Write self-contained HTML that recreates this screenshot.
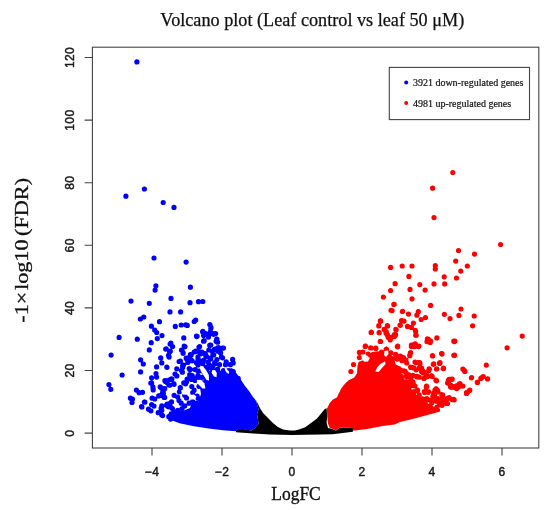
<!DOCTYPE html>
<html><head><meta charset="utf-8"><title>Volcano plot</title>
<style>
html,body{margin:0;padding:0;background:#fff;width:550px;height:510px;overflow:hidden}
svg{display:block}
.tl{font-family:"Liberation Sans",Arial,sans-serif;font-size:12px;letter-spacing:0.4px;fill:#1a1a1a;stroke:#1a1a1a;stroke-width:0.45px}
.ti{font-family:"Liberation Serif","Times New Roman",serif;font-size:18.2px;fill:#111;stroke:#111;stroke-width:0.25px}
.ax{font-family:"Liberation Serif","Times New Roman",serif;font-size:17.5px;fill:#111;stroke:#111;stroke-width:0.3px}
.lg{font-family:"Liberation Serif","Times New Roman",serif;font-size:10px;fill:#111;stroke:#111;stroke-width:0.2px}
</style></head><body>
<svg width="550" height="510" viewBox="0 0 550 510">
<rect width="550" height="510" fill="#fff"/>
<path d="M236 430.5 L239.5 428.3 L246.8 429.7 L251.6 430.5 L254.7 428.2 L258.6 423.5 L257 414.1 L258.6 409.4 L256.5 402 L255.5 399.5 L258 404 L260.2 408.6 L263.3 413.3 L268 418 L272.7 422.7 L277.5 426.7 L282.9 429.4 L290 430.6 L295 430.5 L298.9 429.5 L305.2 427.2 L310.7 423.2 L317 418.5 L320.9 413.8 L324.8 409.1 L326.6 408.3 L327.2 417 L326.6 422.5 L328 428 L331.9 428.7 L336 430.5 L340 427.5 L352.9 428 L352.9 431.8 L332.7 434.3 L320 434.6 L291.5 435.1 L269.6 434.6 L250 433.3 L236 432.3Z" fill="#000"/>
<path d="M205 378 L215 372 L225 370 L232 368 L237 374 L241 380 L245 386 L249 391 L253 397 L255.5 400 L257.5 405 L258.6 409.4 L257 414.1 L258.6 423.5 L254.7 428.2 L251.6 430.5 L246.8 430 L239.5 428.8 L236 430.5 L236 431.3 L223 430.2 L208.6 428.4 L194 426.2 L179.5 423.3 L166.5 418.2 L169.4 411.5 L183.9 410.5 L190 408 L192 401.5 L199 400 L201 394 L200 388Z" fill="#0000ff"/>
<path d="M329.4 427.5 L327.8 422.7 L327.1 413.3 L326.8 409 L329.7 403 L333 399.5 L336.8 397.5 L339.1 392.7 L341.5 388 L345.4 383.3 L349 380 L354 377.8 L357 373.5 L357.5 366 L358.5 362 L361 361 L366 359 L368 355 L372 352 L381 351 L389 352.5 L394 358 L396 366 L398 372 L403.5 381 L411 391 L421 399.6 L432 405.9 L440 409 L440 411.5 L425.5 415.5 L412.7 419.1 L400 422 L394.5 424.5 L382.7 425.9 L367 429 L352.9 430.8 L352.9 428 L340 427.5 L336 430.5Z" fill="#ff0000"/>
<path fill="#0000ff" d="M134.3 61.9a2.6 2.6 0 1 0 5.2 0a2.6 2.6 0 1 0 -5.2 0M123.3 196.2a2.6 2.6 0 1 0 5.2 0a2.6 2.6 0 1 0 -5.2 0M141.8 189a2.6 2.6 0 1 0 5.2 0a2.6 2.6 0 1 0 -5.2 0M160.6 202.5a2.6 2.6 0 1 0 5.2 0a2.6 2.6 0 1 0 -5.2 0M171.4 207.4a2.6 2.6 0 1 0 5.2 0a2.6 2.6 0 1 0 -5.2 0M151.4 258a2.6 2.6 0 1 0 5.2 0a2.6 2.6 0 1 0 -5.2 0M183.5 262.1a2.6 2.6 0 1 0 5.2 0a2.6 2.6 0 1 0 -5.2 0M153.3 285.8a2.6 2.6 0 1 0 5.2 0a2.6 2.6 0 1 0 -5.2 0M152.5 290.1a2.6 2.6 0 1 0 5.2 0a2.6 2.6 0 1 0 -5.2 0M187.8 287.2a2.6 2.6 0 1 0 5.2 0a2.6 2.6 0 1 0 -5.2 0M128.4 301.1a2.6 2.6 0 1 0 5.2 0a2.6 2.6 0 1 0 -5.2 0M146.7 303.3a2.6 2.6 0 1 0 5.2 0a2.6 2.6 0 1 0 -5.2 0M168.4 298.4a2.6 2.6 0 1 0 5.2 0a2.6 2.6 0 1 0 -5.2 0M187.4 302.7a2.6 2.6 0 1 0 5.2 0a2.6 2.6 0 1 0 -5.2 0M167.4 311.9a2.6 2.6 0 1 0 5.2 0a2.6 2.6 0 1 0 -5.2 0M178 311.9a2.6 2.6 0 1 0 5.2 0a2.6 2.6 0 1 0 -5.2 0M137.8 319a2.6 2.6 0 1 0 5.2 0a2.6 2.6 0 1 0 -5.2 0M141.2 317a2.6 2.6 0 1 0 5.2 0a2.6 2.6 0 1 0 -5.2 0M156.9 321.7a2.6 2.6 0 1 0 5.2 0a2.6 2.6 0 1 0 -5.2 0M148.8 326.2a2.6 2.6 0 1 0 5.2 0a2.6 2.6 0 1 0 -5.2 0M152.1 330.1a2.6 2.6 0 1 0 5.2 0a2.6 2.6 0 1 0 -5.2 0M154.1 332.5a2.6 2.6 0 1 0 5.2 0a2.6 2.6 0 1 0 -5.2 0M159.4 335.6a2.6 2.6 0 1 0 5.2 0a2.6 2.6 0 1 0 -5.2 0M154.7 338.6a2.6 2.6 0 1 0 5.2 0a2.6 2.6 0 1 0 -5.2 0M172.7 326.4a2.6 2.6 0 1 0 5.2 0a2.6 2.6 0 1 0 -5.2 0M178.6 325a2.6 2.6 0 1 0 5.2 0a2.6 2.6 0 1 0 -5.2 0M183.1 324.8a2.6 2.6 0 1 0 5.2 0a2.6 2.6 0 1 0 -5.2 0M184.7 325.4a2.6 2.6 0 1 0 5.2 0a2.6 2.6 0 1 0 -5.2 0M116.5 337.4a2.6 2.6 0 1 0 5.2 0a2.6 2.6 0 1 0 -5.2 0M134.7 339.2a2.6 2.6 0 1 0 5.2 0a2.6 2.6 0 1 0 -5.2 0M148.6 342.7a2.6 2.6 0 1 0 5.2 0a2.6 2.6 0 1 0 -5.2 0M181.2 337.8a2.6 2.6 0 1 0 5.2 0a2.6 2.6 0 1 0 -5.2 0M168.2 343.7a2.6 2.6 0 1 0 5.2 0a2.6 2.6 0 1 0 -5.2 0M181.6 346a2.6 2.6 0 1 0 5.2 0a2.6 2.6 0 1 0 -5.2 0M195.9 301.7a2.6 2.6 0 1 0 5.2 0a2.6 2.6 0 1 0 -5.2 0M200.2 301.5a2.6 2.6 0 1 0 5.2 0a2.6 2.6 0 1 0 -5.2 0M193.1 320a2.6 2.6 0 1 0 5.2 0a2.6 2.6 0 1 0 -5.2 0M191.6 321.5a2.6 2.6 0 1 0 5.2 0a2.6 2.6 0 1 0 -5.2 0M207.4 324.8a2.6 2.6 0 1 0 5.2 0a2.6 2.6 0 1 0 -5.2 0M208.4 327.4a2.6 2.6 0 1 0 5.2 0a2.6 2.6 0 1 0 -5.2 0M200 331.7a2.6 2.6 0 1 0 5.2 0a2.6 2.6 0 1 0 -5.2 0M208.8 333.3a2.6 2.6 0 1 0 5.2 0a2.6 2.6 0 1 0 -5.2 0M211.2 333.7a2.6 2.6 0 1 0 5.2 0a2.6 2.6 0 1 0 -5.2 0M201 335.6a2.6 2.6 0 1 0 5.2 0a2.6 2.6 0 1 0 -5.2 0M205.9 336.8a2.6 2.6 0 1 0 5.2 0a2.6 2.6 0 1 0 -5.2 0M194.1 336.6a2.6 2.6 0 1 0 5.2 0a2.6 2.6 0 1 0 -5.2 0M214.3 339.2a2.6 2.6 0 1 0 5.2 0a2.6 2.6 0 1 0 -5.2 0M201.6 340.7a2.6 2.6 0 1 0 5.2 0a2.6 2.6 0 1 0 -5.2 0M207.4 345a2.6 2.6 0 1 0 5.2 0a2.6 2.6 0 1 0 -5.2 0M197 346.6a2.6 2.6 0 1 0 5.2 0a2.6 2.6 0 1 0 -5.2 0M108.5 355.1a2.6 2.6 0 1 0 5.2 0a2.6 2.6 0 1 0 -5.2 0M146.7 349.9a2.6 2.6 0 1 0 5.2 0a2.6 2.6 0 1 0 -5.2 0M163.1 349.1a2.6 2.6 0 1 0 5.2 0a2.6 2.6 0 1 0 -5.2 0M167.5 344.1a2.6 2.6 0 1 0 5.2 0a2.6 2.6 0 1 0 -5.2 0M167 352a2.6 2.6 0 1 0 5.2 0a2.6 2.6 0 1 0 -5.2 0M166.3 356.7a2.6 2.6 0 1 0 5.2 0a2.6 2.6 0 1 0 -5.2 0M158.1 357.9a2.6 2.6 0 1 0 5.2 0a2.6 2.6 0 1 0 -5.2 0M159.2 362.9a2.6 2.6 0 1 0 5.2 0a2.6 2.6 0 1 0 -5.2 0M138 359.8a2.6 2.6 0 1 0 5.2 0a2.6 2.6 0 1 0 -5.2 0M140.7 364a2.6 2.6 0 1 0 5.2 0a2.6 2.6 0 1 0 -5.2 0M154 366.9a2.6 2.6 0 1 0 5.2 0a2.6 2.6 0 1 0 -5.2 0M164.4 367.3a2.6 2.6 0 1 0 5.2 0a2.6 2.6 0 1 0 -5.2 0M138 371.9a2.6 2.6 0 1 0 5.2 0a2.6 2.6 0 1 0 -5.2 0M119.5 375a2.6 2.6 0 1 0 5.2 0a2.6 2.6 0 1 0 -5.2 0M153.4 373.5a2.6 2.6 0 1 0 5.2 0a2.6 2.6 0 1 0 -5.2 0M149 377.8a2.6 2.6 0 1 0 5.2 0a2.6 2.6 0 1 0 -5.2 0M154 377.1a2.6 2.6 0 1 0 5.2 0a2.6 2.6 0 1 0 -5.2 0M162.3 380.5a2.6 2.6 0 1 0 5.2 0a2.6 2.6 0 1 0 -5.2 0M167.8 379.4a2.6 2.6 0 1 0 5.2 0a2.6 2.6 0 1 0 -5.2 0M148.2 383a2.6 2.6 0 1 0 5.2 0a2.6 2.6 0 1 0 -5.2 0M166.3 384.9a2.6 2.6 0 1 0 5.2 0a2.6 2.6 0 1 0 -5.2 0M106.3 384.6a2.6 2.6 0 1 0 5.2 0a2.6 2.6 0 1 0 -5.2 0M108.2 389.3a2.6 2.6 0 1 0 5.2 0a2.6 2.6 0 1 0 -5.2 0M150.3 386.8a2.6 2.6 0 1 0 5.2 0a2.6 2.6 0 1 0 -5.2 0M150.6 389.9a2.6 2.6 0 1 0 5.2 0a2.6 2.6 0 1 0 -5.2 0M157.6 386.9a2.6 2.6 0 1 0 5.2 0a2.6 2.6 0 1 0 -5.2 0M161.6 389.3a2.6 2.6 0 1 0 5.2 0a2.6 2.6 0 1 0 -5.2 0M133.8 390.1a2.6 2.6 0 1 0 5.2 0a2.6 2.6 0 1 0 -5.2 0M136.5 392.7a2.6 2.6 0 1 0 5.2 0a2.6 2.6 0 1 0 -5.2 0M139.9 392.3a2.6 2.6 0 1 0 5.2 0a2.6 2.6 0 1 0 -5.2 0M160.8 393.5a2.6 2.6 0 1 0 5.2 0a2.6 2.6 0 1 0 -5.2 0M161.6 397.5a2.6 2.6 0 1 0 5.2 0a2.6 2.6 0 1 0 -5.2 0M156.1 395.9a2.6 2.6 0 1 0 5.2 0a2.6 2.6 0 1 0 -5.2 0M149.5 398.2a2.6 2.6 0 1 0 5.2 0a2.6 2.6 0 1 0 -5.2 0M152.1 399a2.6 2.6 0 1 0 5.2 0a2.6 2.6 0 1 0 -5.2 0M127.8 398.2a2.6 2.6 0 1 0 5.2 0a2.6 2.6 0 1 0 -5.2 0M129.9 399a2.6 2.6 0 1 0 5.2 0a2.6 2.6 0 1 0 -5.2 0M129.4 402.5a2.6 2.6 0 1 0 5.2 0a2.6 2.6 0 1 0 -5.2 0M142.3 402.2a2.6 2.6 0 1 0 5.2 0a2.6 2.6 0 1 0 -5.2 0M149 404.5a2.6 2.6 0 1 0 5.2 0a2.6 2.6 0 1 0 -5.2 0M151.4 406.1a2.6 2.6 0 1 0 5.2 0a2.6 2.6 0 1 0 -5.2 0M139.3 406.9a2.6 2.6 0 1 0 5.2 0a2.6 2.6 0 1 0 -5.2 0M145.9 409.2a2.6 2.6 0 1 0 5.2 0a2.6 2.6 0 1 0 -5.2 0M159.2 406.9a2.6 2.6 0 1 0 5.2 0a2.6 2.6 0 1 0 -5.2 0M163.9 405a2.6 2.6 0 1 0 5.2 0a2.6 2.6 0 1 0 -5.2 0M167 403.7a2.6 2.6 0 1 0 5.2 0a2.6 2.6 0 1 0 -5.2 0M167.8 406.9a2.6 2.6 0 1 0 5.2 0a2.6 2.6 0 1 0 -5.2 0M148.3 410.8a2.6 2.6 0 1 0 5.2 0a2.6 2.6 0 1 0 -5.2 0M155.6 412.7a2.6 2.6 0 1 0 5.2 0a2.6 2.6 0 1 0 -5.2 0M159.2 414.9a2.6 2.6 0 1 0 5.2 0a2.6 2.6 0 1 0 -5.2 0M158.5 408.4a2.6 2.6 0 1 0 5.2 0a2.6 2.6 0 1 0 -5.2 0M162.1 397.5a2.6 2.6 0 1 0 5.2 0a2.6 2.6 0 1 0 -5.2 0M160.7 393.1a2.6 2.6 0 1 0 5.2 0a2.6 2.6 0 1 0 -5.2 0M157.8 387.3a2.6 2.6 0 1 0 5.2 0a2.6 2.6 0 1 0 -5.2 0M162.1 388.7a2.6 2.6 0 1 0 5.2 0a2.6 2.6 0 1 0 -5.2 0M149 382.9a2.6 2.6 0 1 0 5.2 0a2.6 2.6 0 1 0 -5.2 0M150.5 388.7a2.6 2.6 0 1 0 5.2 0a2.6 2.6 0 1 0 -5.2 0M162.9 381.5a2.6 2.6 0 1 0 5.2 0a2.6 2.6 0 1 0 -5.2 0M165 406.2a2.6 2.6 0 1 0 5.2 0a2.6 2.6 0 1 0 -5.2 0M166.5 417.1a2.6 2.6 0 1 0 5.2 0a2.6 2.6 0 1 0 -5.2 0M141.8 402.1a2.6 2.6 0 1 0 5.2 0a2.6 2.6 0 1 0 -5.2 0M138.9 406.6a2.6 2.6 0 1 0 5.2 0a2.6 2.6 0 1 0 -5.2 0M181.2 338a2.6 2.6 0 1 0 5.2 0a2.6 2.6 0 1 0 -5.2 0M193.9 336.1a2.6 2.6 0 1 0 5.2 0a2.6 2.6 0 1 0 -5.2 0M200 331.8a2.6 2.6 0 1 0 5.2 0a2.6 2.6 0 1 0 -5.2 0M203 333.5a2.6 2.6 0 1 0 5.2 0a2.6 2.6 0 1 0 -5.2 0M207.7 331.8a2.6 2.6 0 1 0 5.2 0a2.6 2.6 0 1 0 -5.2 0M211.2 334.1a2.6 2.6 0 1 0 5.2 0a2.6 2.6 0 1 0 -5.2 0M201.2 341.2a2.6 2.6 0 1 0 5.2 0a2.6 2.6 0 1 0 -5.2 0M205.9 337.1a2.6 2.6 0 1 0 5.2 0a2.6 2.6 0 1 0 -5.2 0M214.2 340a2.6 2.6 0 1 0 5.2 0a2.6 2.6 0 1 0 -5.2 0M207.1 345.3a2.6 2.6 0 1 0 5.2 0a2.6 2.6 0 1 0 -5.2 0M168.3 343.2a2.6 2.6 0 1 0 5.2 0a2.6 2.6 0 1 0 -5.2 0M170 346.5a2.6 2.6 0 1 0 5.2 0a2.6 2.6 0 1 0 -5.2 0M163.6 348.8a2.6 2.6 0 1 0 5.2 0a2.6 2.6 0 1 0 -5.2 0M167.7 351.2a2.6 2.6 0 1 0 5.2 0a2.6 2.6 0 1 0 -5.2 0M165.9 355.3a2.6 2.6 0 1 0 5.2 0a2.6 2.6 0 1 0 -5.2 0M166.5 357.1a2.6 2.6 0 1 0 5.2 0a2.6 2.6 0 1 0 -5.2 0M182.4 346.5a2.6 2.6 0 1 0 5.2 0a2.6 2.6 0 1 0 -5.2 0M178.9 350a2.6 2.6 0 1 0 5.2 0a2.6 2.6 0 1 0 -5.2 0M180.6 352.9a2.6 2.6 0 1 0 5.2 0a2.6 2.6 0 1 0 -5.2 0M187.7 354.7a2.6 2.6 0 1 0 5.2 0a2.6 2.6 0 1 0 -5.2 0M193 351.2a2.6 2.6 0 1 0 5.2 0a2.6 2.6 0 1 0 -5.2 0M196.5 347.1a2.6 2.6 0 1 0 5.2 0a2.6 2.6 0 1 0 -5.2 0M197.7 352.4a2.6 2.6 0 1 0 5.2 0a2.6 2.6 0 1 0 -5.2 0M203 354.7a2.6 2.6 0 1 0 5.2 0a2.6 2.6 0 1 0 -5.2 0M183.6 358.2a2.6 2.6 0 1 0 5.2 0a2.6 2.6 0 1 0 -5.2 0M186.5 360a2.6 2.6 0 1 0 5.2 0a2.6 2.6 0 1 0 -5.2 0M176.5 361.5a2.6 2.6 0 1 0 5.2 0a2.6 2.6 0 1 0 -5.2 0M164.2 367.1a2.6 2.6 0 1 0 5.2 0a2.6 2.6 0 1 0 -5.2 0M174.2 368.8a2.6 2.6 0 1 0 5.2 0a2.6 2.6 0 1 0 -5.2 0M180 365.9a2.6 2.6 0 1 0 5.2 0a2.6 2.6 0 1 0 -5.2 0M187.7 369.4a2.6 2.6 0 1 0 5.2 0a2.6 2.6 0 1 0 -5.2 0M178.9 370.6a2.6 2.6 0 1 0 5.2 0a2.6 2.6 0 1 0 -5.2 0M172.4 374.1a2.6 2.6 0 1 0 5.2 0a2.6 2.6 0 1 0 -5.2 0M174.2 375.9a2.6 2.6 0 1 0 5.2 0a2.6 2.6 0 1 0 -5.2 0M168.9 378.8a2.6 2.6 0 1 0 5.2 0a2.6 2.6 0 1 0 -5.2 0M164.2 380.6a2.6 2.6 0 1 0 5.2 0a2.6 2.6 0 1 0 -5.2 0M171.2 383.5a2.6 2.6 0 1 0 5.2 0a2.6 2.6 0 1 0 -5.2 0M181.2 382.9a2.6 2.6 0 1 0 5.2 0a2.6 2.6 0 1 0 -5.2 0M177.7 387.6a2.6 2.6 0 1 0 5.2 0a2.6 2.6 0 1 0 -5.2 0M187.1 374.7a2.6 2.6 0 1 0 5.2 0a2.6 2.6 0 1 0 -5.2 0M188.9 379.4a2.6 2.6 0 1 0 5.2 0a2.6 2.6 0 1 0 -5.2 0M213 333.5a2.6 2.6 0 1 0 5.2 0a2.6 2.6 0 1 0 -5.2 0M214.2 339.4a2.6 2.6 0 1 0 5.2 0a2.6 2.6 0 1 0 -5.2 0M213.6 341.2a2.6 2.6 0 1 0 5.2 0a2.6 2.6 0 1 0 -5.2 0M215.9 347.6a2.6 2.6 0 1 0 5.2 0a2.6 2.6 0 1 0 -5.2 0M220 348.2a2.6 2.6 0 1 0 5.2 0a2.6 2.6 0 1 0 -5.2 0M215.3 351.2a2.6 2.6 0 1 0 5.2 0a2.6 2.6 0 1 0 -5.2 0M218.9 357.1a2.6 2.6 0 1 0 5.2 0a2.6 2.6 0 1 0 -5.2 0M230 359.4a2.6 2.6 0 1 0 5.2 0a2.6 2.6 0 1 0 -5.2 0M230.6 362.9a2.6 2.6 0 1 0 5.2 0a2.6 2.6 0 1 0 -5.2 0M223.6 361.8a2.6 2.6 0 1 0 5.2 0a2.6 2.6 0 1 0 -5.2 0M200.9 341.2a2.6 2.6 0 1 0 5.2 0a2.6 2.6 0 1 0 -5.2 0M213.5 341.2a2.6 2.6 0 1 0 5.2 0a2.6 2.6 0 1 0 -5.2 0M207.2 345.5a2.6 2.6 0 1 0 5.2 0a2.6 2.6 0 1 0 -5.2 0M182.1 346.7a2.6 2.6 0 1 0 5.2 0a2.6 2.6 0 1 0 -5.2 0M196.6 347.1a2.6 2.6 0 1 0 5.2 0a2.6 2.6 0 1 0 -5.2 0M179.4 350.2a2.6 2.6 0 1 0 5.2 0a2.6 2.6 0 1 0 -5.2 0M180.5 353.3a2.6 2.6 0 1 0 5.2 0a2.6 2.6 0 1 0 -5.2 0M192.7 351.4a2.6 2.6 0 1 0 5.2 0a2.6 2.6 0 1 0 -5.2 0M196.6 351.8a2.6 2.6 0 1 0 5.2 0a2.6 2.6 0 1 0 -5.2 0M198.2 353.7a2.6 2.6 0 1 0 5.2 0a2.6 2.6 0 1 0 -5.2 0M202.5 353.7a2.6 2.6 0 1 0 5.2 0a2.6 2.6 0 1 0 -5.2 0M204.1 356.5a2.6 2.6 0 1 0 5.2 0a2.6 2.6 0 1 0 -5.2 0M188 354.5a2.6 2.6 0 1 0 5.2 0a2.6 2.6 0 1 0 -5.2 0M187.2 356.9a2.6 2.6 0 1 0 5.2 0a2.6 2.6 0 1 0 -5.2 0M183.7 358.4a2.6 2.6 0 1 0 5.2 0a2.6 2.6 0 1 0 -5.2 0M185.2 360.4a2.6 2.6 0 1 0 5.2 0a2.6 2.6 0 1 0 -5.2 0M188.8 360a2.6 2.6 0 1 0 5.2 0a2.6 2.6 0 1 0 -5.2 0M185.2 362.4a2.6 2.6 0 1 0 5.2 0a2.6 2.6 0 1 0 -5.2 0M195.4 358.4a2.6 2.6 0 1 0 5.2 0a2.6 2.6 0 1 0 -5.2 0M196.2 360.4a2.6 2.6 0 1 0 5.2 0a2.6 2.6 0 1 0 -5.2 0M193.9 362.7a2.6 2.6 0 1 0 5.2 0a2.6 2.6 0 1 0 -5.2 0M195.4 365.1a2.6 2.6 0 1 0 5.2 0a2.6 2.6 0 1 0 -5.2 0M199.4 362.7a2.6 2.6 0 1 0 5.2 0a2.6 2.6 0 1 0 -5.2 0M200.9 360.4a2.6 2.6 0 1 0 5.2 0a2.6 2.6 0 1 0 -5.2 0M177.8 361.2a2.6 2.6 0 1 0 5.2 0a2.6 2.6 0 1 0 -5.2 0M180.9 365.1a2.6 2.6 0 1 0 5.2 0a2.6 2.6 0 1 0 -5.2 0M180.1 367.5a2.6 2.6 0 1 0 5.2 0a2.6 2.6 0 1 0 -5.2 0M179.8 372.2a2.6 2.6 0 1 0 5.2 0a2.6 2.6 0 1 0 -5.2 0M187.2 369.4a2.6 2.6 0 1 0 5.2 0a2.6 2.6 0 1 0 -5.2 0M195.4 371a2.6 2.6 0 1 0 5.2 0a2.6 2.6 0 1 0 -5.2 0M187.6 375.3a2.6 2.6 0 1 0 5.2 0a2.6 2.6 0 1 0 -5.2 0M189.2 378.4a2.6 2.6 0 1 0 5.2 0a2.6 2.6 0 1 0 -5.2 0M184.5 379.2a2.6 2.6 0 1 0 5.2 0a2.6 2.6 0 1 0 -5.2 0M195.4 376.1a2.6 2.6 0 1 0 5.2 0a2.6 2.6 0 1 0 -5.2 0M198.6 377.6a2.6 2.6 0 1 0 5.2 0a2.6 2.6 0 1 0 -5.2 0M200.9 371.4a2.6 2.6 0 1 0 5.2 0a2.6 2.6 0 1 0 -5.2 0M203.3 367.5a2.6 2.6 0 1 0 5.2 0a2.6 2.6 0 1 0 -5.2 0M205.6 362a2.6 2.6 0 1 0 5.2 0a2.6 2.6 0 1 0 -5.2 0M208 358a2.6 2.6 0 1 0 5.2 0a2.6 2.6 0 1 0 -5.2 0M210.3 354.1a2.6 2.6 0 1 0 5.2 0a2.6 2.6 0 1 0 -5.2 0M211.9 349.4a2.6 2.6 0 1 0 5.2 0a2.6 2.6 0 1 0 -5.2 0M215 347.8a2.6 2.6 0 1 0 5.2 0a2.6 2.6 0 1 0 -5.2 0M216.6 351a2.6 2.6 0 1 0 5.2 0a2.6 2.6 0 1 0 -5.2 0M209.6 351a2.6 2.6 0 1 0 5.2 0a2.6 2.6 0 1 0 -5.2 0M214.3 359.6a2.6 2.6 0 1 0 5.2 0a2.6 2.6 0 1 0 -5.2 0M212.7 363.5a2.6 2.6 0 1 0 5.2 0a2.6 2.6 0 1 0 -5.2 0M210.3 365.9a2.6 2.6 0 1 0 5.2 0a2.6 2.6 0 1 0 -5.2 0M207.2 367.5a2.6 2.6 0 1 0 5.2 0a2.6 2.6 0 1 0 -5.2 0M210.3 369.8a2.6 2.6 0 1 0 5.2 0a2.6 2.6 0 1 0 -5.2 0M215 369a2.6 2.6 0 1 0 5.2 0a2.6 2.6 0 1 0 -5.2 0M206.4 373a2.6 2.6 0 1 0 5.2 0a2.6 2.6 0 1 0 -5.2 0M203.3 376.1a2.6 2.6 0 1 0 5.2 0a2.6 2.6 0 1 0 -5.2 0M208.8 376.1a2.6 2.6 0 1 0 5.2 0a2.6 2.6 0 1 0 -5.2 0M214.3 376.1a2.6 2.6 0 1 0 5.2 0a2.6 2.6 0 1 0 -5.2 0M216.6 373a2.6 2.6 0 1 0 5.2 0a2.6 2.6 0 1 0 -5.2 0M216.6 379.2a2.6 2.6 0 1 0 5.2 0a2.6 2.6 0 1 0 -5.2 0M208.8 380a2.6 2.6 0 1 0 5.2 0a2.6 2.6 0 1 0 -5.2 0M203.3 380a2.6 2.6 0 1 0 5.2 0a2.6 2.6 0 1 0 -5.2 0M197 380a2.6 2.6 0 1 0 5.2 0a2.6 2.6 0 1 0 -5.2 0M162.3 380.7a2.6 2.6 0 1 0 5.2 0a2.6 2.6 0 1 0 -5.2 0M164.5 382.5a2.6 2.6 0 1 0 5.2 0a2.6 2.6 0 1 0 -5.2 0M169.3 379a2.6 2.6 0 1 0 5.2 0a2.6 2.6 0 1 0 -5.2 0M171.5 384.3a2.6 2.6 0 1 0 5.2 0a2.6 2.6 0 1 0 -5.2 0M167.1 385.2a2.6 2.6 0 1 0 5.2 0a2.6 2.6 0 1 0 -5.2 0M159.2 388.2a2.6 2.6 0 1 0 5.2 0a2.6 2.6 0 1 0 -5.2 0M161.8 389.1a2.6 2.6 0 1 0 5.2 0a2.6 2.6 0 1 0 -5.2 0M160 392.7a2.6 2.6 0 1 0 5.2 0a2.6 2.6 0 1 0 -5.2 0M161.8 397.1a2.6 2.6 0 1 0 5.2 0a2.6 2.6 0 1 0 -5.2 0M158.3 395.3a2.6 2.6 0 1 0 5.2 0a2.6 2.6 0 1 0 -5.2 0M171.5 395.3a2.6 2.6 0 1 0 5.2 0a2.6 2.6 0 1 0 -5.2 0M177.7 388.2a2.6 2.6 0 1 0 5.2 0a2.6 2.6 0 1 0 -5.2 0M176.8 391.8a2.6 2.6 0 1 0 5.2 0a2.6 2.6 0 1 0 -5.2 0M175.1 397.1a2.6 2.6 0 1 0 5.2 0a2.6 2.6 0 1 0 -5.2 0M176.4 400.6a2.6 2.6 0 1 0 5.2 0a2.6 2.6 0 1 0 -5.2 0M178.6 403.2a2.6 2.6 0 1 0 5.2 0a2.6 2.6 0 1 0 -5.2 0M182.1 395.3a2.6 2.6 0 1 0 5.2 0a2.6 2.6 0 1 0 -5.2 0M183.9 398a2.6 2.6 0 1 0 5.2 0a2.6 2.6 0 1 0 -5.2 0M183 383.8a2.6 2.6 0 1 0 5.2 0a2.6 2.6 0 1 0 -5.2 0M183.9 382.1a2.6 2.6 0 1 0 5.2 0a2.6 2.6 0 1 0 -5.2 0M168.9 401.9a2.6 2.6 0 1 0 5.2 0a2.6 2.6 0 1 0 -5.2 0M164.5 404.1a2.6 2.6 0 1 0 5.2 0a2.6 2.6 0 1 0 -5.2 0M166.2 406.8a2.6 2.6 0 1 0 5.2 0a2.6 2.6 0 1 0 -5.2 0M169.8 408.5a2.6 2.6 0 1 0 5.2 0a2.6 2.6 0 1 0 -5.2 0M159.2 405.9a2.6 2.6 0 1 0 5.2 0a2.6 2.6 0 1 0 -5.2 0M159.2 410.3a2.6 2.6 0 1 0 5.2 0a2.6 2.6 0 1 0 -5.2 0M160 415.6a2.6 2.6 0 1 0 5.2 0a2.6 2.6 0 1 0 -5.2 0M171.5 412.1a2.6 2.6 0 1 0 5.2 0a2.6 2.6 0 1 0 -5.2 0M175.1 410.3a2.6 2.6 0 1 0 5.2 0a2.6 2.6 0 1 0 -5.2 0M179.5 408.5a2.6 2.6 0 1 0 5.2 0a2.6 2.6 0 1 0 -5.2 0M182.1 405.9a2.6 2.6 0 1 0 5.2 0a2.6 2.6 0 1 0 -5.2 0M186.5 403.2a2.6 2.6 0 1 0 5.2 0a2.6 2.6 0 1 0 -5.2 0M190.1 401.5a2.6 2.6 0 1 0 5.2 0a2.6 2.6 0 1 0 -5.2 0M190.1 392.7a2.6 2.6 0 1 0 5.2 0a2.6 2.6 0 1 0 -5.2 0M194.5 396.2a2.6 2.6 0 1 0 5.2 0a2.6 2.6 0 1 0 -5.2 0M187.4 375.9a2.6 2.6 0 1 0 5.2 0a2.6 2.6 0 1 0 -5.2 0M190.9 377.6a2.6 2.6 0 1 0 5.2 0a2.6 2.6 0 1 0 -5.2 0M189.2 386.5a2.6 2.6 0 1 0 5.2 0a2.6 2.6 0 1 0 -5.2 0M166.2 416.5a2.6 2.6 0 1 0 5.2 0a2.6 2.6 0 1 0 -5.2 0M170.6 416.5a2.6 2.6 0 1 0 5.2 0a2.6 2.6 0 1 0 -5.2 0M168 419.1a2.6 2.6 0 1 0 5.2 0a2.6 2.6 0 1 0 -5.2 0M175.1 415.6a2.6 2.6 0 1 0 5.2 0a2.6 2.6 0 1 0 -5.2 0M179.5 413.8a2.6 2.6 0 1 0 5.2 0a2.6 2.6 0 1 0 -5.2 0M185.6 412.1a2.6 2.6 0 1 0 5.2 0a2.6 2.6 0 1 0 -5.2 0M207.2 324.5a2.6 2.6 0 1 0 5.2 0a2.6 2.6 0 1 0 -5.2 0M208.2 328.4a2.6 2.6 0 1 0 5.2 0a2.6 2.6 0 1 0 -5.2 0M200.3 331.4a2.6 2.6 0 1 0 5.2 0a2.6 2.6 0 1 0 -5.2 0M206.2 334.3a2.6 2.6 0 1 0 5.2 0a2.6 2.6 0 1 0 -5.2 0M211.1 334.3a2.6 2.6 0 1 0 5.2 0a2.6 2.6 0 1 0 -5.2 0M201.3 341.2a2.6 2.6 0 1 0 5.2 0a2.6 2.6 0 1 0 -5.2 0M214.1 339.2a2.6 2.6 0 1 0 5.2 0a2.6 2.6 0 1 0 -5.2 0M215 342.2a2.6 2.6 0 1 0 5.2 0a2.6 2.6 0 1 0 -5.2 0M194.5 336.3a2.6 2.6 0 1 0 5.2 0a2.6 2.6 0 1 0 -5.2 0M208.2 345.1a2.6 2.6 0 1 0 5.2 0a2.6 2.6 0 1 0 -5.2 0M196.4 347.1a2.6 2.6 0 1 0 5.2 0a2.6 2.6 0 1 0 -5.2 0M191.5 352a2.6 2.6 0 1 0 5.2 0a2.6 2.6 0 1 0 -5.2 0M199.4 352a2.6 2.6 0 1 0 5.2 0a2.6 2.6 0 1 0 -5.2 0M206.2 350a2.6 2.6 0 1 0 5.2 0a2.6 2.6 0 1 0 -5.2 0M213.1 349a2.6 2.6 0 1 0 5.2 0a2.6 2.6 0 1 0 -5.2 0M217 348a2.6 2.6 0 1 0 5.2 0a2.6 2.6 0 1 0 -5.2 0M220.9 348a2.6 2.6 0 1 0 5.2 0a2.6 2.6 0 1 0 -5.2 0M211.1 354.9a2.6 2.6 0 1 0 5.2 0a2.6 2.6 0 1 0 -5.2 0M218 352.9a2.6 2.6 0 1 0 5.2 0a2.6 2.6 0 1 0 -5.2 0M188.6 354.9a2.6 2.6 0 1 0 5.2 0a2.6 2.6 0 1 0 -5.2 0M195.4 356.9a2.6 2.6 0 1 0 5.2 0a2.6 2.6 0 1 0 -5.2 0M203.3 356.9a2.6 2.6 0 1 0 5.2 0a2.6 2.6 0 1 0 -5.2 0M208.2 358.8a2.6 2.6 0 1 0 5.2 0a2.6 2.6 0 1 0 -5.2 0M219.9 357.8a2.6 2.6 0 1 0 5.2 0a2.6 2.6 0 1 0 -5.2 0M184.7 358.8a2.6 2.6 0 1 0 5.2 0a2.6 2.6 0 1 0 -5.2 0M189.6 360.8a2.6 2.6 0 1 0 5.2 0a2.6 2.6 0 1 0 -5.2 0M194.5 362.7a2.6 2.6 0 1 0 5.2 0a2.6 2.6 0 1 0 -5.2 0M200.3 363.7a2.6 2.6 0 1 0 5.2 0a2.6 2.6 0 1 0 -5.2 0M206.2 364.7a2.6 2.6 0 1 0 5.2 0a2.6 2.6 0 1 0 -5.2 0M212.1 362.7a2.6 2.6 0 1 0 5.2 0a2.6 2.6 0 1 0 -5.2 0M217 364.7a2.6 2.6 0 1 0 5.2 0a2.6 2.6 0 1 0 -5.2 0M222.9 364.7a2.6 2.6 0 1 0 5.2 0a2.6 2.6 0 1 0 -5.2 0M227.8 364.7a2.6 2.6 0 1 0 5.2 0a2.6 2.6 0 1 0 -5.2 0M186.6 368.6a2.6 2.6 0 1 0 5.2 0a2.6 2.6 0 1 0 -5.2 0M192.5 369.6a2.6 2.6 0 1 0 5.2 0a2.6 2.6 0 1 0 -5.2 0M198.4 370.6a2.6 2.6 0 1 0 5.2 0a2.6 2.6 0 1 0 -5.2 0M204.3 369.6a2.6 2.6 0 1 0 5.2 0a2.6 2.6 0 1 0 -5.2 0M210.1 369.6a2.6 2.6 0 1 0 5.2 0a2.6 2.6 0 1 0 -5.2 0M215 370.6a2.6 2.6 0 1 0 5.2 0a2.6 2.6 0 1 0 -5.2 0M220.9 370.6a2.6 2.6 0 1 0 5.2 0a2.6 2.6 0 1 0 -5.2 0M225.8 370.6a2.6 2.6 0 1 0 5.2 0a2.6 2.6 0 1 0 -5.2 0M230.7 371.6a2.6 2.6 0 1 0 5.2 0a2.6 2.6 0 1 0 -5.2 0M189.6 375.5a2.6 2.6 0 1 0 5.2 0a2.6 2.6 0 1 0 -5.2 0M195.4 375.5a2.6 2.6 0 1 0 5.2 0a2.6 2.6 0 1 0 -5.2 0M201.3 376.5a2.6 2.6 0 1 0 5.2 0a2.6 2.6 0 1 0 -5.2 0M208.2 375.5a2.6 2.6 0 1 0 5.2 0a2.6 2.6 0 1 0 -5.2 0M214.1 376.5a2.6 2.6 0 1 0 5.2 0a2.6 2.6 0 1 0 -5.2 0M219.9 376.5a2.6 2.6 0 1 0 5.2 0a2.6 2.6 0 1 0 -5.2 0M225.8 375.5a2.6 2.6 0 1 0 5.2 0a2.6 2.6 0 1 0 -5.2 0M231.7 376.5a2.6 2.6 0 1 0 5.2 0a2.6 2.6 0 1 0 -5.2 0M235.6 378.4a2.6 2.6 0 1 0 5.2 0a2.6 2.6 0 1 0 -5.2 0M192.5 380.4a2.6 2.6 0 1 0 5.2 0a2.6 2.6 0 1 0 -5.2 0M198.4 382.4a2.6 2.6 0 1 0 5.2 0a2.6 2.6 0 1 0 -5.2 0M196.4 386.3a2.6 2.6 0 1 0 5.2 0a2.6 2.6 0 1 0 -5.2 0M191.5 390.2a2.6 2.6 0 1 0 5.2 0a2.6 2.6 0 1 0 -5.2 0M190.5 396.1a2.6 2.6 0 1 0 5.2 0a2.6 2.6 0 1 0 -5.2 0M195.4 398a2.6 2.6 0 1 0 5.2 0a2.6 2.6 0 1 0 -5.2 0M202.3 392.2a2.6 2.6 0 1 0 5.2 0a2.6 2.6 0 1 0 -5.2 0"/>
<path d="M181 390.5 L186 390 L188.5 392.5 L187 394.7 L182.5 394.5Z" fill="#fff"/>
<path d="M189 395 L194 394.5 L196.4 396.5 L195 399.4 L190 399.2Z" fill="#fff"/>
<path d="M199.5 367 L203 366.5 L206 370 L208.8 375 L209 380.5 L206.5 380 L204 376 L201 371.5Z" fill="#fff"/>
<path d="M212 370.2 L215 370 L216.8 373 L216.5 377.3 L214 376.5 L212 373.5Z" fill="#fff"/>
<path d="M196.8 380 L201 379.8 L204.5 383.5 L205.4 388.5 L202.5 388.5 L199.5 385.5 L197 383Z" fill="#fff"/>
<path d="M224.6 368.6 L226 368 L229.3 372 L228.5 374.1 L226 372Z" fill="#fff"/>
<path fill="#ff0000" d="M450.2 172.5a2.6 2.6 0 1 0 5.2 0a2.6 2.6 0 1 0 -5.2 0M430 188.2a2.6 2.6 0 1 0 5.2 0a2.6 2.6 0 1 0 -5.2 0M431.4 217.6a2.6 2.6 0 1 0 5.2 0a2.6 2.6 0 1 0 -5.2 0M498 244.5a2.6 2.6 0 1 0 5.2 0a2.6 2.6 0 1 0 -5.2 0M388 267.4a2.6 2.6 0 1 0 5.2 0a2.6 2.6 0 1 0 -5.2 0M388 290.5a2.6 2.6 0 1 0 5.2 0a2.6 2.6 0 1 0 -5.2 0M380.8 297a2.6 2.6 0 1 0 5.2 0a2.6 2.6 0 1 0 -5.2 0M388.4 310.3a2.6 2.6 0 1 0 5.2 0a2.6 2.6 0 1 0 -5.2 0M378 320.9a2.6 2.6 0 1 0 5.2 0a2.6 2.6 0 1 0 -5.2 0M376.3 326a2.6 2.6 0 1 0 5.2 0a2.6 2.6 0 1 0 -5.2 0M384.9 326a2.6 2.6 0 1 0 5.2 0a2.6 2.6 0 1 0 -5.2 0M368.8 332.3a2.6 2.6 0 1 0 5.2 0a2.6 2.6 0 1 0 -5.2 0M376.5 332.7a2.6 2.6 0 1 0 5.2 0a2.6 2.6 0 1 0 -5.2 0M381.6 329.4a2.6 2.6 0 1 0 5.2 0a2.6 2.6 0 1 0 -5.2 0M383.5 333.3a2.6 2.6 0 1 0 5.2 0a2.6 2.6 0 1 0 -5.2 0M385.5 337.2a2.6 2.6 0 1 0 5.2 0a2.6 2.6 0 1 0 -5.2 0M377.6 341.5a2.6 2.6 0 1 0 5.2 0a2.6 2.6 0 1 0 -5.2 0M387.4 339a2.6 2.6 0 1 0 5.2 0a2.6 2.6 0 1 0 -5.2 0M362.9 346a2.6 2.6 0 1 0 5.2 0a2.6 2.6 0 1 0 -5.2 0M455.9 250.5a2.6 2.6 0 1 0 5.2 0a2.6 2.6 0 1 0 -5.2 0M471.9 254.1a2.6 2.6 0 1 0 5.2 0a2.6 2.6 0 1 0 -5.2 0M453.1 261.1a2.6 2.6 0 1 0 5.2 0a2.6 2.6 0 1 0 -5.2 0M464.7 266a2.6 2.6 0 1 0 5.2 0a2.6 2.6 0 1 0 -5.2 0M458.2 271.1a2.6 2.6 0 1 0 5.2 0a2.6 2.6 0 1 0 -5.2 0M453.9 278a2.6 2.6 0 1 0 5.2 0a2.6 2.6 0 1 0 -5.2 0M399.6 266a2.6 2.6 0 1 0 5.2 0a2.6 2.6 0 1 0 -5.2 0M409.4 266a2.6 2.6 0 1 0 5.2 0a2.6 2.6 0 1 0 -5.2 0M432.7 265.6a2.6 2.6 0 1 0 5.2 0a2.6 2.6 0 1 0 -5.2 0M432.7 269a2.6 2.6 0 1 0 5.2 0a2.6 2.6 0 1 0 -5.2 0M406.3 276.4a2.6 2.6 0 1 0 5.2 0a2.6 2.6 0 1 0 -5.2 0M441.6 276.8a2.6 2.6 0 1 0 5.2 0a2.6 2.6 0 1 0 -5.2 0M442.1 283.9a2.6 2.6 0 1 0 5.2 0a2.6 2.6 0 1 0 -5.2 0M431.4 283.9a2.6 2.6 0 1 0 5.2 0a2.6 2.6 0 1 0 -5.2 0M417.2 284.6a2.6 2.6 0 1 0 5.2 0a2.6 2.6 0 1 0 -5.2 0M422.5 290.1a2.6 2.6 0 1 0 5.2 0a2.6 2.6 0 1 0 -5.2 0M392.5 283.7a2.6 2.6 0 1 0 5.2 0a2.6 2.6 0 1 0 -5.2 0M407.4 289.4a2.6 2.6 0 1 0 5.2 0a2.6 2.6 0 1 0 -5.2 0M409.4 298.8a2.6 2.6 0 1 0 5.2 0a2.6 2.6 0 1 0 -5.2 0M391.6 304.3a2.6 2.6 0 1 0 5.2 0a2.6 2.6 0 1 0 -5.2 0M428 305.4a2.6 2.6 0 1 0 5.2 0a2.6 2.6 0 1 0 -5.2 0M400 311.3a2.6 2.6 0 1 0 5.2 0a2.6 2.6 0 1 0 -5.2 0M405.9 314.1a2.6 2.6 0 1 0 5.2 0a2.6 2.6 0 1 0 -5.2 0M415.7 311.7a2.6 2.6 0 1 0 5.2 0a2.6 2.6 0 1 0 -5.2 0M414.3 315.2a2.6 2.6 0 1 0 5.2 0a2.6 2.6 0 1 0 -5.2 0M458.4 309a2.6 2.6 0 1 0 5.2 0a2.6 2.6 0 1 0 -5.2 0M441.8 314.3a2.6 2.6 0 1 0 5.2 0a2.6 2.6 0 1 0 -5.2 0M447.4 318.6a2.6 2.6 0 1 0 5.2 0a2.6 2.6 0 1 0 -5.2 0M456.3 315.4a2.6 2.6 0 1 0 5.2 0a2.6 2.6 0 1 0 -5.2 0M471.6 316a2.6 2.6 0 1 0 5.2 0a2.6 2.6 0 1 0 -5.2 0M470 325.8a2.6 2.6 0 1 0 5.2 0a2.6 2.6 0 1 0 -5.2 0M418.6 319.5a2.6 2.6 0 1 0 5.2 0a2.6 2.6 0 1 0 -5.2 0M422.9 317.6a2.6 2.6 0 1 0 5.2 0a2.6 2.6 0 1 0 -5.2 0M399 320.5a2.6 2.6 0 1 0 5.2 0a2.6 2.6 0 1 0 -5.2 0M401.4 321.1a2.6 2.6 0 1 0 5.2 0a2.6 2.6 0 1 0 -5.2 0M410.8 323.1a2.6 2.6 0 1 0 5.2 0a2.6 2.6 0 1 0 -5.2 0M397.4 325a2.6 2.6 0 1 0 5.2 0a2.6 2.6 0 1 0 -5.2 0M404.9 326.4a2.6 2.6 0 1 0 5.2 0a2.6 2.6 0 1 0 -5.2 0M408.8 327.4a2.6 2.6 0 1 0 5.2 0a2.6 2.6 0 1 0 -5.2 0M412.7 330.3a2.6 2.6 0 1 0 5.2 0a2.6 2.6 0 1 0 -5.2 0M393.5 329.7a2.6 2.6 0 1 0 5.2 0a2.6 2.6 0 1 0 -5.2 0M388.2 338.2a2.6 2.6 0 1 0 5.2 0a2.6 2.6 0 1 0 -5.2 0M391.2 335.6a2.6 2.6 0 1 0 5.2 0a2.6 2.6 0 1 0 -5.2 0M413.1 335.2a2.6 2.6 0 1 0 5.2 0a2.6 2.6 0 1 0 -5.2 0M425.5 339.2a2.6 2.6 0 1 0 5.2 0a2.6 2.6 0 1 0 -5.2 0M428 341.1a2.6 2.6 0 1 0 5.2 0a2.6 2.6 0 1 0 -5.2 0M434.3 337.8a2.6 2.6 0 1 0 5.2 0a2.6 2.6 0 1 0 -5.2 0M452.3 341.1a2.6 2.6 0 1 0 5.2 0a2.6 2.6 0 1 0 -5.2 0M395.1 346a2.6 2.6 0 1 0 5.2 0a2.6 2.6 0 1 0 -5.2 0M408.8 345a2.6 2.6 0 1 0 5.2 0a2.6 2.6 0 1 0 -5.2 0M411.8 344.1a2.6 2.6 0 1 0 5.2 0a2.6 2.6 0 1 0 -5.2 0M416.3 346a2.6 2.6 0 1 0 5.2 0a2.6 2.6 0 1 0 -5.2 0M519.6 336.1a2.6 2.6 0 1 0 5.2 0a2.6 2.6 0 1 0 -5.2 0M504.5 347.8a2.6 2.6 0 1 0 5.2 0a2.6 2.6 0 1 0 -5.2 0M439.4 353.7a2.6 2.6 0 1 0 5.2 0a2.6 2.6 0 1 0 -5.2 0M451.7 355.5a2.6 2.6 0 1 0 5.2 0a2.6 2.6 0 1 0 -5.2 0M437.4 362.7a2.6 2.6 0 1 0 5.2 0a2.6 2.6 0 1 0 -5.2 0M440.9 368.4a2.6 2.6 0 1 0 5.2 0a2.6 2.6 0 1 0 -5.2 0M460.3 369a2.6 2.6 0 1 0 5.2 0a2.6 2.6 0 1 0 -5.2 0M462.3 371.4a2.6 2.6 0 1 0 5.2 0a2.6 2.6 0 1 0 -5.2 0M483.7 365.1a2.6 2.6 0 1 0 5.2 0a2.6 2.6 0 1 0 -5.2 0M468.8 377.8a2.6 2.6 0 1 0 5.2 0a2.6 2.6 0 1 0 -5.2 0M478.2 378.4a2.6 2.6 0 1 0 5.2 0a2.6 2.6 0 1 0 -5.2 0M480.1 376.9a2.6 2.6 0 1 0 5.2 0a2.6 2.6 0 1 0 -5.2 0M485 378.8a2.6 2.6 0 1 0 5.2 0a2.6 2.6 0 1 0 -5.2 0M474.7 382.4a2.6 2.6 0 1 0 5.2 0a2.6 2.6 0 1 0 -5.2 0M448.2 379.4a2.6 2.6 0 1 0 5.2 0a2.6 2.6 0 1 0 -5.2 0M446.2 381.2a2.6 2.6 0 1 0 5.2 0a2.6 2.6 0 1 0 -5.2 0M445.2 383.1a2.6 2.6 0 1 0 5.2 0a2.6 2.6 0 1 0 -5.2 0M457.4 383.7a2.6 2.6 0 1 0 5.2 0a2.6 2.6 0 1 0 -5.2 0M460.3 386.1a2.6 2.6 0 1 0 5.2 0a2.6 2.6 0 1 0 -5.2 0M448.8 387.3a2.6 2.6 0 1 0 5.2 0a2.6 2.6 0 1 0 -5.2 0M452.1 387.6a2.6 2.6 0 1 0 5.2 0a2.6 2.6 0 1 0 -5.2 0M454.1 388.6a2.6 2.6 0 1 0 5.2 0a2.6 2.6 0 1 0 -5.2 0M467.2 390.2a2.6 2.6 0 1 0 5.2 0a2.6 2.6 0 1 0 -5.2 0M464.9 392.2a2.6 2.6 0 1 0 5.2 0a2.6 2.6 0 1 0 -5.2 0M463.9 393.5a2.6 2.6 0 1 0 5.2 0a2.6 2.6 0 1 0 -5.2 0M439.4 395.5a2.6 2.6 0 1 0 5.2 0a2.6 2.6 0 1 0 -5.2 0M445.2 398.4a2.6 2.6 0 1 0 5.2 0a2.6 2.6 0 1 0 -5.2 0M451.1 399.4a2.6 2.6 0 1 0 5.2 0a2.6 2.6 0 1 0 -5.2 0M441.3 401.4a2.6 2.6 0 1 0 5.2 0a2.6 2.6 0 1 0 -5.2 0M443.3 403.3a2.6 2.6 0 1 0 5.2 0a2.6 2.6 0 1 0 -5.2 0M439.4 405.3a2.6 2.6 0 1 0 5.2 0a2.6 2.6 0 1 0 -5.2 0M391.2 304.4a2.6 2.6 0 1 0 5.2 0a2.6 2.6 0 1 0 -5.2 0M389.5 310.6a2.6 2.6 0 1 0 5.2 0a2.6 2.6 0 1 0 -5.2 0M399.8 311.5a2.6 2.6 0 1 0 5.2 0a2.6 2.6 0 1 0 -5.2 0M377.7 320.9a2.6 2.6 0 1 0 5.2 0a2.6 2.6 0 1 0 -5.2 0M376.2 325.6a2.6 2.6 0 1 0 5.2 0a2.6 2.6 0 1 0 -5.2 0M384.8 325.6a2.6 2.6 0 1 0 5.2 0a2.6 2.6 0 1 0 -5.2 0M397.7 325.3a2.6 2.6 0 1 0 5.2 0a2.6 2.6 0 1 0 -5.2 0M398.9 320.6a2.6 2.6 0 1 0 5.2 0a2.6 2.6 0 1 0 -5.2 0M368.5 332.4a2.6 2.6 0 1 0 5.2 0a2.6 2.6 0 1 0 -5.2 0M376.5 332.7a2.6 2.6 0 1 0 5.2 0a2.6 2.6 0 1 0 -5.2 0M381.8 329.4a2.6 2.6 0 1 0 5.2 0a2.6 2.6 0 1 0 -5.2 0M383.6 331.8a2.6 2.6 0 1 0 5.2 0a2.6 2.6 0 1 0 -5.2 0M384.8 334.7a2.6 2.6 0 1 0 5.2 0a2.6 2.6 0 1 0 -5.2 0M387.7 337.6a2.6 2.6 0 1 0 5.2 0a2.6 2.6 0 1 0 -5.2 0M387.7 339.4a2.6 2.6 0 1 0 5.2 0a2.6 2.6 0 1 0 -5.2 0M391.8 334.7a2.6 2.6 0 1 0 5.2 0a2.6 2.6 0 1 0 -5.2 0M391.8 336.5a2.6 2.6 0 1 0 5.2 0a2.6 2.6 0 1 0 -5.2 0M393.2 329.4a2.6 2.6 0 1 0 5.2 0a2.6 2.6 0 1 0 -5.2 0M377.7 341.4a2.6 2.6 0 1 0 5.2 0a2.6 2.6 0 1 0 -5.2 0M362.6 346.5a2.6 2.6 0 1 0 5.2 0a2.6 2.6 0 1 0 -5.2 0M368.5 348a2.6 2.6 0 1 0 5.2 0a2.6 2.6 0 1 0 -5.2 0M373.2 348.2a2.6 2.6 0 1 0 5.2 0a2.6 2.6 0 1 0 -5.2 0M383.6 349.4a2.6 2.6 0 1 0 5.2 0a2.6 2.6 0 1 0 -5.2 0M395 346.8a2.6 2.6 0 1 0 5.2 0a2.6 2.6 0 1 0 -5.2 0M413 331.2a2.6 2.6 0 1 0 5.2 0a2.6 2.6 0 1 0 -5.2 0M413.6 335.3a2.6 2.6 0 1 0 5.2 0a2.6 2.6 0 1 0 -5.2 0M393 334.7a2.6 2.6 0 1 0 5.2 0a2.6 2.6 0 1 0 -5.2 0M424.8 338.8a2.6 2.6 0 1 0 5.2 0a2.6 2.6 0 1 0 -5.2 0M427.7 341.2a2.6 2.6 0 1 0 5.2 0a2.6 2.6 0 1 0 -5.2 0M434.2 338a2.6 2.6 0 1 0 5.2 0a2.6 2.6 0 1 0 -5.2 0M451.2 341.2a2.6 2.6 0 1 0 5.2 0a2.6 2.6 0 1 0 -5.2 0M394.8 346.5a2.6 2.6 0 1 0 5.2 0a2.6 2.6 0 1 0 -5.2 0M408.9 345.9a2.6 2.6 0 1 0 5.2 0a2.6 2.6 0 1 0 -5.2 0M411.8 344.1a2.6 2.6 0 1 0 5.2 0a2.6 2.6 0 1 0 -5.2 0M415.9 346.5a2.6 2.6 0 1 0 5.2 0a2.6 2.6 0 1 0 -5.2 0M407.7 352.9a2.6 2.6 0 1 0 5.2 0a2.6 2.6 0 1 0 -5.2 0M407.1 355.3a2.6 2.6 0 1 0 5.2 0a2.6 2.6 0 1 0 -5.2 0M430 355.9a2.6 2.6 0 1 0 5.2 0a2.6 2.6 0 1 0 -5.2 0M438.9 353.5a2.6 2.6 0 1 0 5.2 0a2.6 2.6 0 1 0 -5.2 0M451.2 355.3a2.6 2.6 0 1 0 5.2 0a2.6 2.6 0 1 0 -5.2 0M412.4 362a2.6 2.6 0 1 0 5.2 0a2.6 2.6 0 1 0 -5.2 0M417.1 362.7a2.6 2.6 0 1 0 5.2 0a2.6 2.6 0 1 0 -5.2 0M431.2 363.9a2.6 2.6 0 1 0 5.2 0a2.6 2.6 0 1 0 -5.2 0M436.9 363.2a2.6 2.6 0 1 0 5.2 0a2.6 2.6 0 1 0 -5.2 0M434.2 368.8a2.6 2.6 0 1 0 5.2 0a2.6 2.6 0 1 0 -5.2 0M440.6 368.6a2.6 2.6 0 1 0 5.2 0a2.6 2.6 0 1 0 -5.2 0M426.5 368.8a2.6 2.6 0 1 0 5.2 0a2.6 2.6 0 1 0 -5.2 0M408.3 367.4a2.6 2.6 0 1 0 5.2 0a2.6 2.6 0 1 0 -5.2 0M411.2 367.9a2.6 2.6 0 1 0 5.2 0a2.6 2.6 0 1 0 -5.2 0M417.7 367.6a2.6 2.6 0 1 0 5.2 0a2.6 2.6 0 1 0 -5.2 0M420 370.6a2.6 2.6 0 1 0 5.2 0a2.6 2.6 0 1 0 -5.2 0M420.6 372.9a2.6 2.6 0 1 0 5.2 0a2.6 2.6 0 1 0 -5.2 0M424.2 375.3a2.6 2.6 0 1 0 5.2 0a2.6 2.6 0 1 0 -5.2 0M421.8 378a2.6 2.6 0 1 0 5.2 0a2.6 2.6 0 1 0 -5.2 0M428.9 375.9a2.6 2.6 0 1 0 5.2 0a2.6 2.6 0 1 0 -5.2 0M433.6 380.6a2.6 2.6 0 1 0 5.2 0a2.6 2.6 0 1 0 -5.2 0M446.5 379.4a2.6 2.6 0 1 0 5.2 0a2.6 2.6 0 1 0 -5.2 0M445.3 382.4a2.6 2.6 0 1 0 5.2 0a2.6 2.6 0 1 0 -5.2 0M448.3 385.3a2.6 2.6 0 1 0 5.2 0a2.6 2.6 0 1 0 -5.2 0M451.2 386.5a2.6 2.6 0 1 0 5.2 0a2.6 2.6 0 1 0 -5.2 0M424.2 386.5a2.6 2.6 0 1 0 5.2 0a2.6 2.6 0 1 0 -5.2 0M433.6 388.8a2.6 2.6 0 1 0 5.2 0a2.6 2.6 0 1 0 -5.2 0M461.8 370.7a2.6 2.6 0 1 0 5.2 0a2.6 2.6 0 1 0 -5.2 0M469 377.6a2.6 2.6 0 1 0 5.2 0a2.6 2.6 0 1 0 -5.2 0M474.9 382.4a2.6 2.6 0 1 0 5.2 0a2.6 2.6 0 1 0 -5.2 0M478.5 378a2.6 2.6 0 1 0 5.2 0a2.6 2.6 0 1 0 -5.2 0M480.7 376.5a2.6 2.6 0 1 0 5.2 0a2.6 2.6 0 1 0 -5.2 0M485 379a2.6 2.6 0 1 0 5.2 0a2.6 2.6 0 1 0 -5.2 0M445.8 380.2a2.6 2.6 0 1 0 5.2 0a2.6 2.6 0 1 0 -5.2 0M448.7 379.5a2.6 2.6 0 1 0 5.2 0a2.6 2.6 0 1 0 -5.2 0M445 383.1a2.6 2.6 0 1 0 5.2 0a2.6 2.6 0 1 0 -5.2 0M447.9 386.7a2.6 2.6 0 1 0 5.2 0a2.6 2.6 0 1 0 -5.2 0M452.3 387.5a2.6 2.6 0 1 0 5.2 0a2.6 2.6 0 1 0 -5.2 0M456.7 383.8a2.6 2.6 0 1 0 5.2 0a2.6 2.6 0 1 0 -5.2 0M459.6 386a2.6 2.6 0 1 0 5.2 0a2.6 2.6 0 1 0 -5.2 0M463.9 392.5a2.6 2.6 0 1 0 5.2 0a2.6 2.6 0 1 0 -5.2 0M466.9 390.4a2.6 2.6 0 1 0 5.2 0a2.6 2.6 0 1 0 -5.2 0M433.4 380.2a2.6 2.6 0 1 0 5.2 0a2.6 2.6 0 1 0 -5.2 0M429 375.8a2.6 2.6 0 1 0 5.2 0a2.6 2.6 0 1 0 -5.2 0M423.9 376.5a2.6 2.6 0 1 0 5.2 0a2.6 2.6 0 1 0 -5.2 0M421.8 378a2.6 2.6 0 1 0 5.2 0a2.6 2.6 0 1 0 -5.2 0M423.9 386a2.6 2.6 0 1 0 5.2 0a2.6 2.6 0 1 0 -5.2 0M423.2 391.1a2.6 2.6 0 1 0 5.2 0a2.6 2.6 0 1 0 -5.2 0M433.4 388.9a2.6 2.6 0 1 0 5.2 0a2.6 2.6 0 1 0 -5.2 0M434.1 391.8a2.6 2.6 0 1 0 5.2 0a2.6 2.6 0 1 0 -5.2 0M431.9 394.7a2.6 2.6 0 1 0 5.2 0a2.6 2.6 0 1 0 -5.2 0M439.2 394.7a2.6 2.6 0 1 0 5.2 0a2.6 2.6 0 1 0 -5.2 0M442.9 399.1a2.6 2.6 0 1 0 5.2 0a2.6 2.6 0 1 0 -5.2 0M446.5 397.6a2.6 2.6 0 1 0 5.2 0a2.6 2.6 0 1 0 -5.2 0M451.6 399.8a2.6 2.6 0 1 0 5.2 0a2.6 2.6 0 1 0 -5.2 0M437.8 403.5a2.6 2.6 0 1 0 5.2 0a2.6 2.6 0 1 0 -5.2 0M418.9 371.5a2.6 2.6 0 1 0 5.2 0a2.6 2.6 0 1 0 -5.2 0M426.1 370.7a2.6 2.6 0 1 0 5.2 0a2.6 2.6 0 1 0 -5.2 0M394.7 346.6a2.6 2.6 0 1 0 5.2 0a2.6 2.6 0 1 0 -5.2 0M383.7 349.3a2.6 2.6 0 1 0 5.2 0a2.6 2.6 0 1 0 -5.2 0M408.8 346.6a2.6 2.6 0 1 0 5.2 0a2.6 2.6 0 1 0 -5.2 0M411.9 346.6a2.6 2.6 0 1 0 5.2 0a2.6 2.6 0 1 0 -5.2 0M415.8 346.6a2.6 2.6 0 1 0 5.2 0a2.6 2.6 0 1 0 -5.2 0M408 352.8a2.6 2.6 0 1 0 5.2 0a2.6 2.6 0 1 0 -5.2 0M407.2 355.6a2.6 2.6 0 1 0 5.2 0a2.6 2.6 0 1 0 -5.2 0M379 352.1a2.6 2.6 0 1 0 5.2 0a2.6 2.6 0 1 0 -5.2 0M379.8 355.2a2.6 2.6 0 1 0 5.2 0a2.6 2.6 0 1 0 -5.2 0M388.4 352.8a2.6 2.6 0 1 0 5.2 0a2.6 2.6 0 1 0 -5.2 0M393.1 354.4a2.6 2.6 0 1 0 5.2 0a2.6 2.6 0 1 0 -5.2 0M397.8 356a2.6 2.6 0 1 0 5.2 0a2.6 2.6 0 1 0 -5.2 0M400.9 357.5a2.6 2.6 0 1 0 5.2 0a2.6 2.6 0 1 0 -5.2 0M403.3 359.9a2.6 2.6 0 1 0 5.2 0a2.6 2.6 0 1 0 -5.2 0M404.1 363a2.6 2.6 0 1 0 5.2 0a2.6 2.6 0 1 0 -5.2 0M385.2 357.5a2.6 2.6 0 1 0 5.2 0a2.6 2.6 0 1 0 -5.2 0M389.9 359.1a2.6 2.6 0 1 0 5.2 0a2.6 2.6 0 1 0 -5.2 0M394.7 359.1a2.6 2.6 0 1 0 5.2 0a2.6 2.6 0 1 0 -5.2 0M399.4 360.7a2.6 2.6 0 1 0 5.2 0a2.6 2.6 0 1 0 -5.2 0M379 359.1a2.6 2.6 0 1 0 5.2 0a2.6 2.6 0 1 0 -5.2 0M382.1 360.7a2.6 2.6 0 1 0 5.2 0a2.6 2.6 0 1 0 -5.2 0M378.2 363.8a2.6 2.6 0 1 0 5.2 0a2.6 2.6 0 1 0 -5.2 0M384.5 364.6a2.6 2.6 0 1 0 5.2 0a2.6 2.6 0 1 0 -5.2 0M412.7 362.3a2.6 2.6 0 1 0 5.2 0a2.6 2.6 0 1 0 -5.2 0M415.8 362.6a2.6 2.6 0 1 0 5.2 0a2.6 2.6 0 1 0 -5.2 0M408 367a2.6 2.6 0 1 0 5.2 0a2.6 2.6 0 1 0 -5.2 0M410.3 367.7a2.6 2.6 0 1 0 5.2 0a2.6 2.6 0 1 0 -5.2 0M416.6 368.1a2.6 2.6 0 1 0 5.2 0a2.6 2.6 0 1 0 -5.2 0M393.1 367a2.6 2.6 0 1 0 5.2 0a2.6 2.6 0 1 0 -5.2 0M396.2 368.5a2.6 2.6 0 1 0 5.2 0a2.6 2.6 0 1 0 -5.2 0M393.1 370.9a2.6 2.6 0 1 0 5.2 0a2.6 2.6 0 1 0 -5.2 0M397 371.7a2.6 2.6 0 1 0 5.2 0a2.6 2.6 0 1 0 -5.2 0M400.9 370.9a2.6 2.6 0 1 0 5.2 0a2.6 2.6 0 1 0 -5.2 0M403.3 372.5a2.6 2.6 0 1 0 5.2 0a2.6 2.6 0 1 0 -5.2 0M406.4 374.8a2.6 2.6 0 1 0 5.2 0a2.6 2.6 0 1 0 -5.2 0M410.3 375.6a2.6 2.6 0 1 0 5.2 0a2.6 2.6 0 1 0 -5.2 0M414.3 376.4a2.6 2.6 0 1 0 5.2 0a2.6 2.6 0 1 0 -5.2 0M416.6 377.2a2.6 2.6 0 1 0 5.2 0a2.6 2.6 0 1 0 -5.2 0M403.3 381.9a2.6 2.6 0 1 0 5.2 0a2.6 2.6 0 1 0 -5.2 0M408 382.6a2.6 2.6 0 1 0 5.2 0a2.6 2.6 0 1 0 -5.2 0M410.3 381.9a2.6 2.6 0 1 0 5.2 0a2.6 2.6 0 1 0 -5.2 0M397 378.7a2.6 2.6 0 1 0 5.2 0a2.6 2.6 0 1 0 -5.2 0M394.7 381.9a2.6 2.6 0 1 0 5.2 0a2.6 2.6 0 1 0 -5.2 0M397.8 383.4a2.6 2.6 0 1 0 5.2 0a2.6 2.6 0 1 0 -5.2 0M399 376.6a2.6 2.6 0 1 0 5.2 0a2.6 2.6 0 1 0 -5.2 0M403.7 376.6a2.6 2.6 0 1 0 5.2 0a2.6 2.6 0 1 0 -5.2 0M409.2 375.8a2.6 2.6 0 1 0 5.2 0a2.6 2.6 0 1 0 -5.2 0M413.9 376.6a2.6 2.6 0 1 0 5.2 0a2.6 2.6 0 1 0 -5.2 0M421.7 378.1a2.6 2.6 0 1 0 5.2 0a2.6 2.6 0 1 0 -5.2 0M424.9 376.6a2.6 2.6 0 1 0 5.2 0a2.6 2.6 0 1 0 -5.2 0M429.6 376.6a2.6 2.6 0 1 0 5.2 0a2.6 2.6 0 1 0 -5.2 0M433.9 380.5a2.6 2.6 0 1 0 5.2 0a2.6 2.6 0 1 0 -5.2 0M398.2 381.3a2.6 2.6 0 1 0 5.2 0a2.6 2.6 0 1 0 -5.2 0M403.7 382.1a2.6 2.6 0 1 0 5.2 0a2.6 2.6 0 1 0 -5.2 0M408.4 379.7a2.6 2.6 0 1 0 5.2 0a2.6 2.6 0 1 0 -5.2 0M410.7 383.6a2.6 2.6 0 1 0 5.2 0a2.6 2.6 0 1 0 -5.2 0M412.3 386a2.6 2.6 0 1 0 5.2 0a2.6 2.6 0 1 0 -5.2 0M406.8 386a2.6 2.6 0 1 0 5.2 0a2.6 2.6 0 1 0 -5.2 0M424.1 386.4a2.6 2.6 0 1 0 5.2 0a2.6 2.6 0 1 0 -5.2 0M432.7 389.9a2.6 2.6 0 1 0 5.2 0a2.6 2.6 0 1 0 -5.2 0M435 390.7a2.6 2.6 0 1 0 5.2 0a2.6 2.6 0 1 0 -5.2 0M431.1 393a2.6 2.6 0 1 0 5.2 0a2.6 2.6 0 1 0 -5.2 0M430.3 396.2a2.6 2.6 0 1 0 5.2 0a2.6 2.6 0 1 0 -5.2 0M421.7 391.5a2.6 2.6 0 1 0 5.2 0a2.6 2.6 0 1 0 -5.2 0M425.6 392.3a2.6 2.6 0 1 0 5.2 0a2.6 2.6 0 1 0 -5.2 0M414.7 390.7a2.6 2.6 0 1 0 5.2 0a2.6 2.6 0 1 0 -5.2 0M411.5 391.5a2.6 2.6 0 1 0 5.2 0a2.6 2.6 0 1 0 -5.2 0M407.6 391.5a2.6 2.6 0 1 0 5.2 0a2.6 2.6 0 1 0 -5.2 0M402.1 389.9a2.6 2.6 0 1 0 5.2 0a2.6 2.6 0 1 0 -5.2 0M397.4 389.1a2.6 2.6 0 1 0 5.2 0a2.6 2.6 0 1 0 -5.2 0M415.4 397a2.6 2.6 0 1 0 5.2 0a2.6 2.6 0 1 0 -5.2 0M417.8 400.1a2.6 2.6 0 1 0 5.2 0a2.6 2.6 0 1 0 -5.2 0M420.9 401.7a2.6 2.6 0 1 0 5.2 0a2.6 2.6 0 1 0 -5.2 0M424.1 398.5a2.6 2.6 0 1 0 5.2 0a2.6 2.6 0 1 0 -5.2 0M427.2 400.1a2.6 2.6 0 1 0 5.2 0a2.6 2.6 0 1 0 -5.2 0M435 398.5a2.6 2.6 0 1 0 5.2 0a2.6 2.6 0 1 0 -5.2 0M436.6 402.5a2.6 2.6 0 1 0 5.2 0a2.6 2.6 0 1 0 -5.2 0M378 321.2a2.6 2.6 0 1 0 5.2 0a2.6 2.6 0 1 0 -5.2 0M376.2 325.9a2.6 2.6 0 1 0 5.2 0a2.6 2.6 0 1 0 -5.2 0M385 325.9a2.6 2.6 0 1 0 5.2 0a2.6 2.6 0 1 0 -5.2 0M368.6 332.4a2.6 2.6 0 1 0 5.2 0a2.6 2.6 0 1 0 -5.2 0M376.6 332.7a2.6 2.6 0 1 0 5.2 0a2.6 2.6 0 1 0 -5.2 0M382.7 330.6a2.6 2.6 0 1 0 5.2 0a2.6 2.6 0 1 0 -5.2 0M383.9 332.9a2.6 2.6 0 1 0 5.2 0a2.6 2.6 0 1 0 -5.2 0M385 335.3a2.6 2.6 0 1 0 5.2 0a2.6 2.6 0 1 0 -5.2 0M386.2 337.6a2.6 2.6 0 1 0 5.2 0a2.6 2.6 0 1 0 -5.2 0M378 341.5a2.6 2.6 0 1 0 5.2 0a2.6 2.6 0 1 0 -5.2 0M362.7 346.1a2.6 2.6 0 1 0 5.2 0a2.6 2.6 0 1 0 -5.2 0M368 347.9a2.6 2.6 0 1 0 5.2 0a2.6 2.6 0 1 0 -5.2 0M373.3 348.5a2.6 2.6 0 1 0 5.2 0a2.6 2.6 0 1 0 -5.2 0M383.9 349.4a2.6 2.6 0 1 0 5.2 0a2.6 2.6 0 1 0 -5.2 0M356.8 352.4a2.6 2.6 0 1 0 5.2 0a2.6 2.6 0 1 0 -5.2 0M360.3 352a2.6 2.6 0 1 0 5.2 0a2.6 2.6 0 1 0 -5.2 0M365.6 354.1a2.6 2.6 0 1 0 5.2 0a2.6 2.6 0 1 0 -5.2 0M356.8 357.6a2.6 2.6 0 1 0 5.2 0a2.6 2.6 0 1 0 -5.2 0M350.9 364.5a2.6 2.6 0 1 0 5.2 0a2.6 2.6 0 1 0 -5.2 0M348.3 371.5a2.6 2.6 0 1 0 5.2 0a2.6 2.6 0 1 0 -5.2 0M394.7 346.6a2.6 2.6 0 1 0 5.2 0a2.6 2.6 0 1 0 -5.2 0M383.7 349.7a2.6 2.6 0 1 0 5.2 0a2.6 2.6 0 1 0 -5.2 0M410.3 345.5a2.6 2.6 0 1 0 5.2 0a2.6 2.6 0 1 0 -5.2 0M415 346.3a2.6 2.6 0 1 0 5.2 0a2.6 2.6 0 1 0 -5.2 0M412.7 343.9a2.6 2.6 0 1 0 5.2 0a2.6 2.6 0 1 0 -5.2 0M408 352.5a2.6 2.6 0 1 0 5.2 0a2.6 2.6 0 1 0 -5.2 0M407.2 355.7a2.6 2.6 0 1 0 5.2 0a2.6 2.6 0 1 0 -5.2 0M379 352.5a2.6 2.6 0 1 0 5.2 0a2.6 2.6 0 1 0 -5.2 0M386.8 354.1a2.6 2.6 0 1 0 5.2 0a2.6 2.6 0 1 0 -5.2 0M393.1 355.7a2.6 2.6 0 1 0 5.2 0a2.6 2.6 0 1 0 -5.2 0M397.8 357.3a2.6 2.6 0 1 0 5.2 0a2.6 2.6 0 1 0 -5.2 0M402.5 360.4a2.6 2.6 0 1 0 5.2 0a2.6 2.6 0 1 0 -5.2 0M380.5 358.8a2.6 2.6 0 1 0 5.2 0a2.6 2.6 0 1 0 -5.2 0M385.2 362a2.6 2.6 0 1 0 5.2 0a2.6 2.6 0 1 0 -5.2 0M389.9 363.5a2.6 2.6 0 1 0 5.2 0a2.6 2.6 0 1 0 -5.2 0M380.5 365.1a2.6 2.6 0 1 0 5.2 0a2.6 2.6 0 1 0 -5.2 0M413.5 362.7a2.6 2.6 0 1 0 5.2 0a2.6 2.6 0 1 0 -5.2 0M417.4 363.5a2.6 2.6 0 1 0 5.2 0a2.6 2.6 0 1 0 -5.2 0M408.8 367.5a2.6 2.6 0 1 0 5.2 0a2.6 2.6 0 1 0 -5.2 0M413.5 369.8a2.6 2.6 0 1 0 5.2 0a2.6 2.6 0 1 0 -5.2 0M419 368.2a2.6 2.6 0 1 0 5.2 0a2.6 2.6 0 1 0 -5.2 0M421.3 372.2a2.6 2.6 0 1 0 5.2 0a2.6 2.6 0 1 0 -5.2 0M397.8 369.8a2.6 2.6 0 1 0 5.2 0a2.6 2.6 0 1 0 -5.2 0M402.5 371.4a2.6 2.6 0 1 0 5.2 0a2.6 2.6 0 1 0 -5.2 0M396.2 374.5a2.6 2.6 0 1 0 5.2 0a2.6 2.6 0 1 0 -5.2 0M404.9 376.9a2.6 2.6 0 1 0 5.2 0a2.6 2.6 0 1 0 -5.2 0M410.3 375.3a2.6 2.6 0 1 0 5.2 0a2.6 2.6 0 1 0 -5.2 0M415 376.9a2.6 2.6 0 1 0 5.2 0a2.6 2.6 0 1 0 -5.2 0M426.8 369a2.6 2.6 0 1 0 5.2 0a2.6 2.6 0 1 0 -5.2 0M430.7 364.3a2.6 2.6 0 1 0 5.2 0a2.6 2.6 0 1 0 -5.2 0M437 363.5a2.6 2.6 0 1 0 5.2 0a2.6 2.6 0 1 0 -5.2 0M433.9 369a2.6 2.6 0 1 0 5.2 0a2.6 2.6 0 1 0 -5.2 0M440.9 368.2a2.6 2.6 0 1 0 5.2 0a2.6 2.6 0 1 0 -5.2 0M429.9 355.7a2.6 2.6 0 1 0 5.2 0a2.6 2.6 0 1 0 -5.2 0M439.4 354.1a2.6 2.6 0 1 0 5.2 0a2.6 2.6 0 1 0 -5.2 0M451.9 355.2a2.6 2.6 0 1 0 5.2 0a2.6 2.6 0 1 0 -5.2 0M424.4 376.1a2.6 2.6 0 1 0 5.2 0a2.6 2.6 0 1 0 -5.2 0M429.2 376.1a2.6 2.6 0 1 0 5.2 0a2.6 2.6 0 1 0 -5.2 0M421.3 378.4a2.6 2.6 0 1 0 5.2 0a2.6 2.6 0 1 0 -5.2 0M400.9 381.6a2.6 2.6 0 1 0 5.2 0a2.6 2.6 0 1 0 -5.2 0M406.4 382.4a2.6 2.6 0 1 0 5.2 0a2.6 2.6 0 1 0 -5.2 0M410.3 385.5a2.6 2.6 0 1 0 5.2 0a2.6 2.6 0 1 0 -5.2 0M433.9 380.8a2.6 2.6 0 1 0 5.2 0a2.6 2.6 0 1 0 -5.2 0M423.7 387.1a2.6 2.6 0 1 0 5.2 0a2.6 2.6 0 1 0 -5.2 0M426 391.8a2.6 2.6 0 1 0 5.2 0a2.6 2.6 0 1 0 -5.2 0M422.1 392.5a2.6 2.6 0 1 0 5.2 0a2.6 2.6 0 1 0 -5.2 0M415 390.2a2.6 2.6 0 1 0 5.2 0a2.6 2.6 0 1 0 -5.2 0M411.1 393.3a2.6 2.6 0 1 0 5.2 0a2.6 2.6 0 1 0 -5.2 0M416.6 394.9a2.6 2.6 0 1 0 5.2 0a2.6 2.6 0 1 0 -5.2 0M432.3 390.2a2.6 2.6 0 1 0 5.2 0a2.6 2.6 0 1 0 -5.2 0M435.4 391.8a2.6 2.6 0 1 0 5.2 0a2.6 2.6 0 1 0 -5.2 0M446.4 380.8a2.6 2.6 0 1 0 5.2 0a2.6 2.6 0 1 0 -5.2 0M449.6 379.2a2.6 2.6 0 1 0 5.2 0a2.6 2.6 0 1 0 -5.2 0M454.3 385.5a2.6 2.6 0 1 0 5.2 0a2.6 2.6 0 1 0 -5.2 0M455.8 387.1a2.6 2.6 0 1 0 5.2 0a2.6 2.6 0 1 0 -5.2 0M451.1 387.1a2.6 2.6 0 1 0 5.2 0a2.6 2.6 0 1 0 -5.2 0M440.1 394.9a2.6 2.6 0 1 0 5.2 0a2.6 2.6 0 1 0 -5.2 0M439.4 398a2.6 2.6 0 1 0 5.2 0a2.6 2.6 0 1 0 -5.2 0M444.9 398.8a2.6 2.6 0 1 0 5.2 0a2.6 2.6 0 1 0 -5.2 0M449.6 399.6a2.6 2.6 0 1 0 5.2 0a2.6 2.6 0 1 0 -5.2 0M430.7 398a2.6 2.6 0 1 0 5.2 0a2.6 2.6 0 1 0 -5.2 0M433.9 401.2a2.6 2.6 0 1 0 5.2 0a2.6 2.6 0 1 0 -5.2 0M429.2 402.7a2.6 2.6 0 1 0 5.2 0a2.6 2.6 0 1 0 -5.2 0M419.8 398.8a2.6 2.6 0 1 0 5.2 0a2.6 2.6 0 1 0 -5.2 0M424.4 399.6a2.6 2.6 0 1 0 5.2 0a2.6 2.6 0 1 0 -5.2 0M440.1 402.7a2.6 2.6 0 1 0 5.2 0a2.6 2.6 0 1 0 -5.2 0M444.9 403.5a2.6 2.6 0 1 0 5.2 0a2.6 2.6 0 1 0 -5.2 0M397.8 391.8a2.6 2.6 0 1 0 5.2 0a2.6 2.6 0 1 0 -5.2 0M402.5 393.3a2.6 2.6 0 1 0 5.2 0a2.6 2.6 0 1 0 -5.2 0M424.4 341.6a2.6 2.6 0 1 0 5.2 0a2.6 2.6 0 1 0 -5.2 0M427.6 342.4a2.6 2.6 0 1 0 5.2 0a2.6 2.6 0 1 0 -5.2 0M451.9 341.6a2.6 2.6 0 1 0 5.2 0a2.6 2.6 0 1 0 -5.2 0M387.6 340a2.6 2.6 0 1 0 5.2 0a2.6 2.6 0 1 0 -5.2 0M397.4 376a2.6 2.6 0 1 0 5.2 0a2.6 2.6 0 1 0 -5.2 0M402.4 385a2.6 2.6 0 1 0 5.2 0a2.6 2.6 0 1 0 -5.2 0M405.4 390a2.6 2.6 0 1 0 5.2 0a2.6 2.6 0 1 0 -5.2 0M411.4 397a2.6 2.6 0 1 0 5.2 0a2.6 2.6 0 1 0 -5.2 0M417.4 403a2.6 2.6 0 1 0 5.2 0a2.6 2.6 0 1 0 -5.2 0M399.4 380a2.6 2.6 0 1 0 5.2 0a2.6 2.6 0 1 0 -5.2 0M406.4 388a2.6 2.6 0 1 0 5.2 0a2.6 2.6 0 1 0 -5.2 0M413.4 398a2.6 2.6 0 1 0 5.2 0a2.6 2.6 0 1 0 -5.2 0M422.4 403a2.6 2.6 0 1 0 5.2 0a2.6 2.6 0 1 0 -5.2 0M427.4 406a2.6 2.6 0 1 0 5.2 0a2.6 2.6 0 1 0 -5.2 0M434.4 407a2.6 2.6 0 1 0 5.2 0a2.6 2.6 0 1 0 -5.2 0"/>
<path d="M361.5 356 L364 354.8 L367 355.5 L369.8 358 L368 361.5 L364.5 361.8 L362 359.5Z" fill="#fff"/>
<path d="M375.4 371.5 L377 367.5 L381 363.5 L385 361.5 L385.6 364 L382 368 L378.5 372Z" fill="#fff"/>
<path d="M384.5 351 L388 350.5 L388.5 354 L386 357 L384 355Z" fill="#fff"/>
<rect x="92.4" y="47.2" width="446.4" height="400.8" fill="none" stroke="#444" stroke-width="1.1"/>
<path d="M152 448V455.5M222 448V455.5M292 448V455.5M362 448V455.5M432 448V455.5M502 448V455.5M84.6 433.1H92.4M84.6 370.5H92.4M84.6 307.9H92.4M84.6 245.3H92.4M84.6 182.7H92.4M84.6 120.1H92.4M84.6 57.5H92.4" stroke="#444" stroke-width="1.1" fill="none"/>
<text x="152" y="476.2" class="tl" text-anchor="middle">−4</text>
<text x="222" y="476.2" class="tl" text-anchor="middle">−2</text>
<text x="292" y="476.2" class="tl" text-anchor="middle">0</text>
<text x="362" y="476.2" class="tl" text-anchor="middle">2</text>
<text x="432" y="476.2" class="tl" text-anchor="middle">4</text>
<text x="502" y="476.2" class="tl" text-anchor="middle">6</text>
<text transform="translate(73.6 433.1) rotate(-90)" class="tl" text-anchor="middle">0</text>
<text transform="translate(73.6 370.5) rotate(-90)" class="tl" text-anchor="middle">20</text>
<text transform="translate(73.6 307.9) rotate(-90)" class="tl" text-anchor="middle">40</text>
<text transform="translate(73.6 245.3) rotate(-90)" class="tl" text-anchor="middle">60</text>
<text transform="translate(73.6 182.7) rotate(-90)" class="tl" text-anchor="middle">80</text>
<text transform="translate(73.6 120.1) rotate(-90)" class="tl" text-anchor="middle">100</text>
<text transform="translate(73.6 57.5) rotate(-90)" class="tl" text-anchor="middle">120</text>
<text x="312.3" y="26" class="ti" text-anchor="middle">Volcano plot (Leaf control vs leaf 50 μM)</text>
<text transform="translate(296 500.1) scale(1 1.1)" class="ax" text-anchor="middle">LogFC</text>
<text transform="translate(28.3 250.3) rotate(-90) scale(1.14 1)" class="ax" style="font-size:19.5px" text-anchor="middle">-1×<tspan dx="1.4">log10</tspan><tspan dx="-1.8"> (FDR)</tspan></text>
<rect x="389.3" y="67.4" width="140.2" height="52.2" fill="#fff" stroke="#444" stroke-width="1.1"/>
<circle cx="406.2" cy="82.6" r="2" fill="#0000ff"/><circle cx="406.2" cy="103" r="2" fill="#ff0000"/>
<text x="412.9" y="86.4" class="lg">3921 down-regulated genes</text>
<text x="412.9" y="106.8" class="lg">4981 up-regulated genes</text>
</svg>
</body></html>
